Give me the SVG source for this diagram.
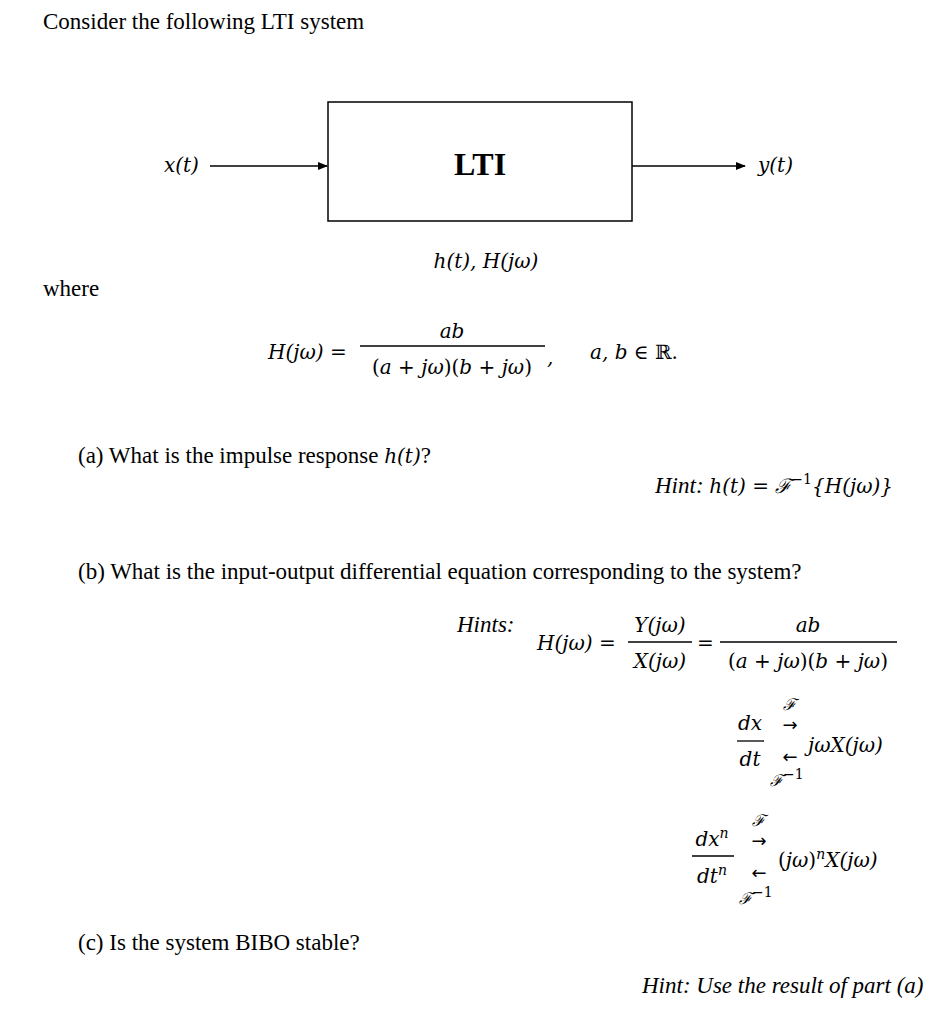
<svg xmlns="http://www.w3.org/2000/svg" width="948" height="1024" viewBox="0 0 948 1024">
<style>
text{font-family:"Liberation Serif","DejaVu Serif",serif;font-size:23px;fill:#000}
.m{font-family:"DejaVu Serif","Liberation Serif",serif;font-style:italic;font-size:20px}
.u{font-style:normal}
.s{font-size:14px}
.c{text-anchor:middle}
.ar{font-family:"DejaVu Sans",sans-serif;font-size:18px;text-anchor:middle}
line{stroke:#000;stroke-width:1.3}
</style>
<defs><marker id="ah" markerWidth="10" markerHeight="8" refX="9" refY="4" orient="auto" markerUnits="userSpaceOnUse"><path d="M0,0 L10,4 L0,8 z" fill="#000"/></marker></defs>
<rect width="948" height="1024" fill="#fff"/>
<text x="43" y="29">Consider the following LTI system</text>
<g id="lti"><rect x="328" y="102" width="304" height="119" fill="#fff" stroke="#000" stroke-width="1.5"/>
<text x="480" y="175" class="c" style="font-weight:bold;font-size:32px">LTI</text></g>
<g id="input"><text x="164" y="172" class="m">x(t)</text></g>
<g id="output"><text x="758" y="172" class="m">y(t)</text></g>
<g id="connectors"><line x1="210" y1="166" x2="327" y2="166" marker-end="url(#ah)"/><line x1="632" y1="166" x2="745" y2="166" marker-end="url(#ah)"/></g>
<text x="486" y="268" class="m c">h(t), H(jω)</text>
<text x="43" y="296">where</text>
<text x="268" y="359" class="m">H(jω) <tspan class="u">=</tspan></text>
<text x="452" y="338" class="m c">ab</text>
<line x1="360" y1="346" x2="545" y2="346"/>
<text x="452" y="374" class="m c"><tspan class="u">(</tspan>a <tspan class="u">+</tspan> jω<tspan class="u">)(</tspan>b <tspan class="u">+</tspan> jω<tspan class="u">)</tspan></text>
<text x="547" y="364" class="m">,</text>
<text x="590" y="359" class="m">a, b  <tspan class="u">∈ ℝ.</tspan></text>
<text x="78" y="463">(a)  What is the impulse response <tspan class="m">h(t)</tspan>?</text>
<text x="655" y="493" style="font-style:italic">Hint: <tspan class="m">h(t) <tspan class="u">=</tspan> ℱ<tspan dy="-9" class="s u">−1</tspan><tspan dy="9">{H(jω)}</tspan></tspan></text>
<text x="78" y="579">(b)  What is the input-output differential equation corresponding to the system?</text>
<text x="457" y="632" style="font-style:italic">Hints:</text>
<text x="537" y="650" class="m">H(jω) <tspan class="u">=</tspan></text>
<text x="660" y="632" class="m c">Y(jω)</text>
<line x1="628" y1="642" x2="692" y2="642"/>
<text x="660" y="668" class="m c">X(jω)</text>
<text x="697" y="650" class="m u">=</text>
<text x="808" y="632" class="m c">ab</text>
<line x1="720" y1="642" x2="897" y2="642"/>
<text x="808" y="668" class="m c"><tspan class="u">(</tspan>a <tspan class="u">+</tspan> jω<tspan class="u">)(</tspan>b <tspan class="u">+</tspan> jω<tspan class="u">)</tspan></text>
<text x="750" y="730" class="m c">dx</text>
<line x1="737" y1="741" x2="764" y2="741"/>
<text x="750" y="766" class="m c">dt</text>
<text x="789" y="710" class="m c" style="font-size:16px">ℱ</text>
<text x="790" y="731" class="ar">→</text>
<text x="790" y="763" class="ar">←</text>
<text x="770" y="786" class="m" style="font-size:16px">ℱ<tspan dy="-7" class="s u">−1</tspan></text>
<text x="808" y="752" class="m">jωX(jω)</text>
<text x="712" y="846" class="m c">dx<tspan dy="-8" class="s">n</tspan></text>
<line x1="692" y1="856" x2="734" y2="856"/>
<text x="712" y="883" class="m c">dt<tspan dy="-8" class="s">n</tspan></text>
<text x="758" y="826" class="m c" style="font-size:16px">ℱ</text>
<text x="759" y="847" class="ar">→</text>
<text x="759" y="879" class="ar">←</text>
<text x="739" y="904" class="m" style="font-size:16px">ℱ<tspan dy="-7" class="s u">−1</tspan></text>
<text x="778" y="867" class="m"><tspan class="u">(</tspan>jω<tspan class="u">)</tspan><tspan dy="-8" class="s">n</tspan><tspan dy="8">X(jω)</tspan></text>
<text x="78" y="950">(c)  Is the system BIBO stable?</text>
<text x="642" y="993" style="font-style:italic">Hint: Use the result of part (a)</text>
</svg>
